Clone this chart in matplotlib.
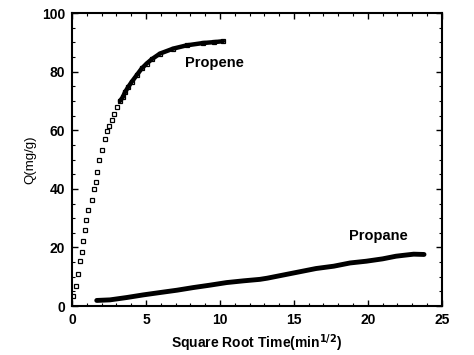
import matplotlib.pyplot as plt
from matplotlib.ticker import MultipleLocator

# values (x = square root time, y = Q in mg/g)
propene_x = [0.09, 0.27, 0.43, 0.54, 0.66, 0.76, 0.88, 0.95, 1.10, 1.33, 1.49, 1.62,
             1.67, 1.82, 2.00, 2.23, 2.34, 2.52, 2.68, 2.84, 3.02, 3.24, 3.43, 3.58,
             3.80, 4.03, 4.37, 4.71, 5.05, 5.40, 5.95, 6.85, 7.75, 8.87, 9.60, 10.2]
propene_y = [3.4, 6.8, 11.1, 15.2, 18.5, 22.3, 25.9, 29.3, 32.8, 36.2, 40.0, 42.2,
             45.7, 49.7, 53.3, 57.1, 59.7, 61.6, 63.4, 65.7, 67.9, 70.0, 71.3, 73.0,
             74.8, 76.5, 78.8, 81.1, 82.8, 84.3, 86.2, 87.9, 89.0, 89.8, 90.1, 90.4]

propane_x = [1.67, 2.57, 3.7, 4.82, 5.95, 7.1, 8.2, 9.3, 10.45, 11.6, 12.7, 13.2,
             14.3, 15.4, 16.5, 17.7, 18.8, 19.9, 21.0, 21.9, 22.4, 23.1, 23.8]
propane_y = [1.9, 2.1, 2.9, 3.8, 4.6, 5.4, 6.3, 7.1, 8.0, 8.6, 9.1, 9.5,
             10.6, 11.7, 12.8, 13.6, 14.7, 15.3, 16.1, 17.0, 17.3, 17.7, 17.6]

plt.rcParams['font.family'] = ['Liberation Sans', 'DejaVu Sans']

fig = plt.figure(figsize=(4.74, 3.55), dpi=100)
ax = fig.add_axes([0.152, 0.138, 0.78, 0.825])

# sparse open squares at the start, dense part drawn as a thick band
ax.plot(propene_x, propene_y, 's', ms=3.5, mfc='white', mec='black', mew=0.9)
dense = [i for i, v in enumerate(propene_x) if v >= 3.2]
ax.plot([propene_x[i] for i in dense], [propene_y[i] for i in dense],
        '-', color='black', lw=3.2, solid_capstyle='round')
ax.plot(propane_x, propane_y, '-', color='black', lw=3.5, solid_capstyle='round')

ax.text(9.66, 83, 'Propene', fontsize=10.5, fontweight='bold', ha='center', va='center')
ax.text(20.7, 23.9, 'Propane', fontsize=10.5, fontweight='bold', ha='center', va='center')

ax.set_xlim(0, 25)
ax.set_ylim(0, 100)
ax.xaxis.set_major_locator(MultipleLocator(5))
ax.xaxis.set_minor_locator(MultipleLocator(1))
ax.yaxis.set_major_locator(MultipleLocator(20))
ax.yaxis.set_minor_locator(MultipleLocator(5))
ax.tick_params(which='both', direction='in', top=True, right=True)
ax.tick_params(which='major', length=4, width=1, labelsize=10, pad=5)
ax.tick_params(which='minor', length=2, width=0.8)
for lab in ax.get_xticklabels() + ax.get_yticklabels():
    lab.set_fontweight('bold')
for sp in ax.spines.values():
    sp.set_linewidth(1.5)

ax.set_xlabel('Square Root Time(min$^{\\mathbf{1/2}}$)', fontsize=10, fontweight='bold', labelpad=4)
ax.set_ylabel('Q(mg/g)', fontsize=9.5, labelpad=4)

fig.savefig('out.png', dpi=100)
